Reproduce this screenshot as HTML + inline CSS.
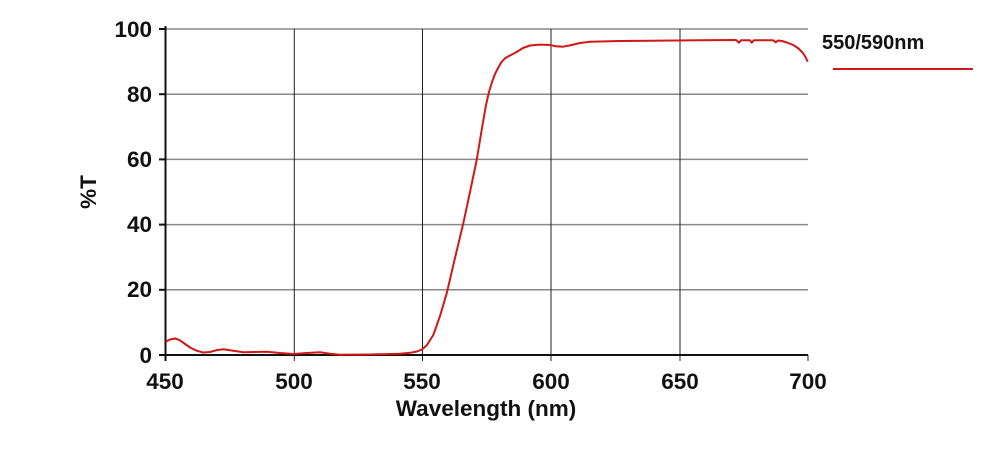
<!DOCTYPE html>
<html><head><style>body{margin:0;background:#fff}svg{display:block}text{font-family:"Liberation Sans",Arial,sans-serif;font-weight:bold;fill:#111}</style></head>
<body>
<svg width="1000" height="451" viewBox="0 0 1000 451">
<g stroke="#888" stroke-width="1.5">
<line x1="165" y1="29" x2="808" y2="29"/><line x1="165" y1="94.2" x2="808" y2="94.2"/><line x1="165" y1="159.4" x2="808" y2="159.4"/><line x1="165" y1="224.6" x2="808" y2="224.6"/><line x1="165" y1="289.8" x2="808" y2="289.8"/>
</g>
<g stroke="#222" stroke-width="1">
<line x1="294.3" y1="29" x2="294.3" y2="361"/><line x1="422.5" y1="29" x2="422.5" y2="361"/><line x1="551" y1="29" x2="551" y2="361"/><line x1="680" y1="29" x2="680" y2="361"/><line x1="808" y1="355" x2="808" y2="361"/>
</g>
<g stroke="#111" stroke-width="2"><line x1="165.5" y1="26" x2="165.5" y2="361"/><line x1="159" y1="355" x2="808" y2="355"/>
<line x1="159" y1="29" x2="166" y2="29"/><line x1="159" y1="94.2" x2="166" y2="94.2"/><line x1="159" y1="159.4" x2="166" y2="159.4"/><line x1="159" y1="224.6" x2="166" y2="224.6"/><line x1="159" y1="289.8" x2="166" y2="289.8"/></g>
<g font-size="22.5" text-anchor="end">
<text x="152" y="37">100</text><text x="152" y="102">80</text><text x="152" y="167">60</text><text x="152" y="232">40</text><text x="152" y="297">20</text><text x="152" y="363">0</text>
</g>
<g font-size="22.5" text-anchor="middle">
<text x="165" y="389">450</text><text x="294" y="389">500</text><text x="422" y="389">550</text><text x="551" y="389">600</text><text x="680" y="389">650</text><text x="808" y="389">700</text>
<text x="486" y="416">Wavelength (nm)</text>
</g>
<text font-size="22.5" transform="translate(96,192) rotate(-90)" text-anchor="middle">%T</text>
<text font-size="20" x="822" y="49">550/590nm</text>
<line x1="833" y1="69" x2="973" y2="69" stroke="#d01818" stroke-width="2"/>
<polyline fill="none" stroke="#d01818" stroke-width="2" stroke-linejoin="round" points="165.7,341.7 170,339.5 175,338.5 179,339.8 183,342.5 190,347.5 196.7,350.7 203,352.5 210,352 216,350.3 223.3,349.3 230,350.3 243.3,352.3 255,352 266.7,351.7 280,353 293.3,354 307,353 320,352.3 330,353.8 340,354.7 370,354.5 400,353.7 410,352.8 417,351.5 422,349.5 427,345 433.3,335 440,316 446.7,293.3 455,258 463.3,223.3 470,192 476.7,160 482,128 486,105 489,92 492,82 495,74 498.3,67.5 501.5,62 505,58.3 510,55.5 516.7,52 523,48 530,45.5 540,44.6 550,45 556,46.3 563,46.7 570,45.4 580,43 590,41.7 620,41 650,40.7 700,40.2 736,40 739,42.7 741,40.3 750,40.3 751.7,42.7 754,40.2 773,40.2 775.7,42.3 778,40.5 782,41 787,42.5 793.3,45 798.5,48.5 802.5,52.5 805.5,57 807.7,61.7"/>
</svg>
</body></html>
